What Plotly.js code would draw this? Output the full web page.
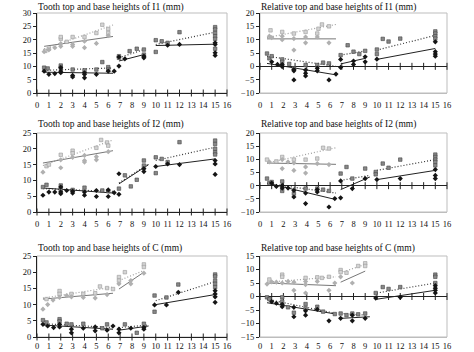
<!DOCTYPE html>
<html><head><meta charset="utf-8">
<script src="https://cdn.plot.ly/plotly-3.0.1.min.js"></script>
<style>html,body{margin:0;padding:0;background:#fff}#chart{width:474px;height:352px}</style>
</head><body><div id="chart"></div>
<script>
// ---------- Panel titles and axis ranges ----------
const panelTitles = [
  "Tooth top and base heights of I1 (mm)",
  "Relative top and base heights of I1 (mm)",
  "Tooth top and base heights of I2 (mm)",
  "Relative top and base heights of I2 (mm)",
  "Tooth top and base heights of C (mm)",
  "Relative top and base heights of C (mm)"
];
const yRanges = [[0,30],[-10,20],[0,25],[-10,20],[0,25],[-15,15]];
const xRange = [0,16];
const zeroTicks = [0,1,2,3,4,5,6,7,8,9,10,11,12,13,14,15,16];

// ---------- Panel 1: I1 absolute ----------
const p1UpSqX = [0.7,1.0,2.0,2.0,2.5,3.0,4.0,5.0,5.5,6.0,6.0];
const p1UpSqY = [15.8,16.6,20.3,21.0,19.2,21.0,21.0,22.5,25.6,24.0,22.5];
const p1UpDiX = [0.6,1.0,1.5,2.0,2.0,3.0,3.0,4.0,4.0,5.0,6.0];
const p1UpDiY = [15.5,16.2,17.0,17.5,18.5,18.2,17.5,19.4,17.0,18.6,21.5];
const p1LoSqX = [0.6,0.9,2.0,2.0,3.0,4.0,5.0,5.5,6.0,6.0,6.9,6.9,7.8,8.4,9.0,9.0,10.0,10.0,10.5,11.0,12.0,15,15,15,15,15,15];
const p1LoSqY = [9.5,9.2,10.3,9.5,8.8,8.5,8.8,11.6,9.7,8.8,13.8,13.2,15.7,16.6,16.3,14.4,19.8,15.4,19.4,18.8,22.8,24.7,23.8,22.5,21.3,20.3,16.6];
const p1LoDiX = [0.6,1.0,1.5,2.0,2.0,2.0,3.0,3.0,4.0,4.0,4.0,5.0,6.0,6.5,6.9,6.9,7.4,9.0,9.0,11.0,12.0,15,15,15,15];
const p1LoDiY = [8.2,7.0,7.3,8.2,9.5,7.6,6.6,6.0,7.0,5.7,7.6,7.0,8.2,8.2,10.1,13.5,12.8,13.8,13.2,17.9,18.2,18.2,14.1,15.1,18.8];
const p1UpDotX = [0.6,6.4], p1UpDotY = [16.5,25.5];
const p1UpSolX = [0.6,6.4], p1UpSolY = [17.5,21.2];
const p1LoDotX = [0.6,6.4,null,6.9,9.0,null,10,15], p1LoDotY = [8.5,9.4,null,13.2,16.3,null,18.2,22.8];
const p1LoSolX = [0.6,6.4,null,6.9,9.0,null,10,15], p1LoSolY = [7.8,7.4,null,12.0,14.4,null,17.8,18.3];

// ---------- Panel 2: I1 relative ----------
const p2UpSqX = [0.9,1.9,2.9,3.9,4.9,5.3,5.9,5.0];
const p2UpSqY = [13.5,12.9,12.3,12.9,12.3,15.7,15.0,14.1];
const p2UpDiX = [0.8,1.0,1.9,1.9,2.9,2.9,3.9,3.9,4.9,5.9];
const p2UpDiY = [11.3,10.8,11.3,10.0,10.4,6.1,11.0,8.8,11.0,8.8];
const p2LoSqX = [0.6,0.8,1.0,1.9,1.9,2.5,2.9,3.9,4.9,5.4,5.9,6.9,7.5,8.0,8.5,9.0,10.0,10.0,10.5,11.0,12.0,15,15,15,15];
const p2LoSqY = [4.8,3.0,3.8,2.6,1.7,0.9,-0.7,0.5,0.5,1.4,1.1,4.2,7.9,5.5,4.6,5.8,6.3,4.6,10.3,9.3,10.4,13.1,12.3,11.3,10.4];
const p2LoDiX = [1.0,1.5,1.9,1.9,2.9,2.9,2.9,3.9,3.9,3.9,4.9,4.9,5.9,6.5,6.9,6.9,8.0,8.0,9.0,9.0,10.0,15,15,15,15];
const p2LoDiY = [1.7,0.7,0.7,-0.1,-1.7,-5.1,-1.2,-1.4,-2.6,-3.6,-0.7,-1.7,-5.1,-2.9,2.6,-0.4,2.0,0.7,3.6,1.7,2.7,9.2,5.5,4.6,3.8];
const p2UpDotX = [0.6,6.5], p2UpDotY = [10.8,15.7];
const p2UpSolX = [0.6,6.5], p2UpSolY = [10.3,10.3];
const p2LoDotX = [0.6,6.5,null,6.9,9.0,null,10,15], p2LoDotY = [3.8,0.0,null,4.2,5.8,null,6.1,11.6];
const p2LoSolX = [0.6,6.5,null,6.9,9.0,null,10,15], p2LoSolY = [1.1,-3.2,null,0.9,3.0,null,2.6,6.7];

// ---------- Panel 3: I2 absolute ----------
const p3UpSqX = [0.8,1.0,2.0,3.0,3.0,5.0,5.4,5.9,6.0];
const p3UpSqY = [14.5,15.0,18.1,19.4,18.6,20.3,22.8,22.0,21.0];
const p3UpDiX = [0.5,2.0,2.0,3.0,4.0,4.0,4.0,5.0,5.0,6.0];
const p3UpDiY = [12.6,16.5,14.0,17.3,17.9,16.3,15.8,17.5,16.5,19.1];
const p3LoSqX = [0.5,0.8,2.0,2.0,3.0,4.0,5.5,6.0,6.9,7.4,7.9,8.4,9.0,9.0,10.0,10.0,10.5,11.0,12.0,15,15,15,15,15];
const p3LoSqY = [7.9,8.6,8.4,7.0,7.0,7.7,6.8,6.6,7.4,11.6,8.1,10.2,16.3,14.7,17.3,12.3,16.8,15.8,22.1,22.6,21.5,20.0,18.9,18.2];
const p3LoDiX = [0.5,1.0,1.5,2.0,2.0,2.0,2.5,3.0,3.0,4.0,4.0,5.0,5.0,6.0,6.0,6.5,6.9,6.9,9.0,9.0,10.0,11.0,12.0,15,15,15];
const p3LoDiY = [5.3,6.3,6.3,7.9,6.3,5.8,6.8,6.6,6.0,6.3,5.3,6.8,4.9,7.0,4.9,6.1,12.1,5.6,13.7,12.8,14.4,15.2,15.0,16.3,15.2,11.9];
const p3UpDotX = [0.5,6.4], p3UpDotY = [14.7,22.8];
const p3UpSolX = [0.5,6.4], p3UpSolY = [15.5,19.4];
const p3LoDotX = [0.5,6.4,null,6.9,9.4,null,10,15], p3LoDotY = [7.4,6.5,null,9.2,15.2,null,16.3,20.5];
const p3LoSolX = [0.5,6.4,null,6.9,9.4,null,10,15], p3LoSolY = [7.6,6.0,null,8.9,15.0,null,14.4,16.8];

// ---------- Panel 4: I2 relative ----------
const p4UpSqX = [0.6,1.9,2.9,3.9,4.9,5.4,5.9,1.4];
const p4UpSqY = [9.9,10.9,9.9,9.9,10.3,14.4,14.1,9.2];
const p4UpDiX = [0.8,1.9,1.9,2.4,2.9,2.9,3.9,3.9,4.9,5.9];
const p4UpDiY = [9.0,9.9,6.5,9.0,5.8,8.6,7.1,4.8,8.4,8.0];
const p4LoSqX = [0.6,0.8,1.0,1.9,1.9,2.9,3.9,4.9,5.4,5.9,6.9,7.4,7.9,9.0,9.9,9.9,10.5,11.0,12.0,15,15,15,15,15];
const p4LoSqY = [2.7,1.0,1.4,1.6,-2.0,-3.0,-1.1,-1.1,-1.5,-2.0,4.6,7.1,2.7,6.5,5.2,4.3,8.4,6.8,9.9,11.8,10.9,9.9,9.0,7.7];
const p4LoDiX = [1.0,1.4,1.9,1.9,2.4,2.9,2.9,3.9,3.9,4.9,4.9,5.9,6.4,6.9,6.9,7.9,9.0,10.0,12.0,15,15,15];
const p4LoDiY = [1.0,-0.3,0.1,-0.9,-0.9,-1.8,-4.3,-2.8,-6.8,-2.4,-1.5,-8.1,-4.9,1.8,-4.6,-1.1,2.7,2.3,2.7,6.1,3.9,2.7];
const p4UpDotX = [0.6,6.5], p4UpDotY = [8.6,14.4];
const p4UpSolX = [0.6,6.5], p4UpSolY = [8.6,8.1];
const p4LoDotX = [0.6,6.5,null,6.9,9.4,null,10,15], p4LoDotY = [0.8,-2.8,null,2.0,3.9,null,5.8,9.9];
const p4LoSolX = [0.6,6.5,null,6.9,9.4,null,10,15], p4LoSolY = [1.0,-5.3,null,-1.5,3.3,null,2.3,5.8];

// ---------- Panel 5: C absolute ----------
const p5UpSqX = [0.8,1.9,1.9,2.9,3.9,4.9,5.3,5.9,6.4,6.9,6.9,7.4,9.0,9.0];
const p5UpSqY = [11.7,14.2,13.3,13.3,13.3,13.5,15.6,15.1,14.8,18.5,17.4,20.0,22.4,21.6];
const p5UpDiX = [0.5,0.9,1.35,1.9,2.5,2.9,3.9,4.9,5.9,6.9,7.9,7.9,9.0];
const p5UpDiY = [8.6,10.0,11.4,12.2,12.8,12.4,12.2,12.0,13.1,16.4,17.4,16.4,19.7];
const p5LoSqX = [0.5,0.8,1.9,1.9,2.5,2.9,3.9,5.5,5.9,7.4,8.4,9.0,9.9,9.9,10.9,11.9,15,15,15,15,15];
const p5LoSqY = [5.2,4.5,5.5,4.8,4.1,3.9,4.1,2.7,3.9,3.9,1.3,4.1,12.8,7.8,12.2,16.2,19.3,18.7,17.4,16.4,15.4];
const p5LoDiX = [0.5,0.9,1.4,1.9,1.9,2.9,2.9,3.9,4.9,4.9,5.9,6.4,6.9,6.9,7.9,9.0,9.0,9.9,10.9,11.9,15,15,15,15];
const p5LoDiY = [3.9,3.4,2.9,3.9,3.1,2.4,1.3,2.7,3.1,1.9,2.1,3.4,2.4,1.3,2.7,2.9,2.4,9.9,9.9,13.8,14.3,13.3,12.4,10.7];
const p5UpDotX = [0.5,6.4,null,6.9,9.0], p5UpDotY = [12.0,15.4,null,17.4,20.5];
const p5UpSolX = [0.5,6.4,null,6.9,9.0], p5UpSolY = [11.7,13.5,null,14.8,20.0];
const p5LoDotX = [0.5,6.4,null,6.9,9.4,null,10,15], p5LoDotY = [4.1,2.9,null,2.9,3.7,null,11.2,17.1];
const p5LoSolX = [0.5,6.4,null,6.9,9.4,null,10,15], p5LoSolY = [3.7,2.4,null,2.1,3.4,null,10.0,13.1];

// ---------- Panel 6: C relative ----------
const p6UpSqX = [0.8,1.9,1.9,3.9,4.9,5.3,5.9,6.9,6.9,7.4,8.4,9.0,9.0];
const p6UpSqY = [6.3,8.1,7.3,6.9,7.1,6.9,7.3,9.8,9.0,8.8,11.3,12.3,11.3];
const p6UpDiX = [0.6,1.0,1.4,1.9,2.4,2.9,2.9,3.9,3.9,3.9,4.9,5.9,6.4,6.9,7.9];
const p6UpDiY = [4.6,5.4,5.3,5.0,5.6,5.3,2.3,5.6,4.4,1.3,5.6,2.3,5.0,7.3,5.0];
const p6LoSqX = [0.6,0.8,1.9,1.9,2.4,2.9,3.9,3.9,4.9,5.4,6.4,6.9,7.4,7.9,8.4,9.0,9.9,10.5,11.0,12.0,15,15,15];
const p6LoSqY = [-0.3,-1.0,-0.3,-1.9,-4.0,-6.0,-2.8,-4.4,-3.8,-5.6,-6.5,-6.3,-6.9,-6.3,-6.6,-6.3,1.3,3.5,2.8,3.5,8.1,7.3,5.0];
const p6LoDiX = [1.0,1.4,1.9,1.9,2.9,2.9,3.9,3.9,4.9,5.9,6.9,7.9,7.9,9.0,9.9,12.0,15,15,15,15];
const p6LoDiY = [-1.9,-2.5,-2.9,-3.8,-4.0,-7.5,-5.3,-6.9,-4.8,-9.0,-8.1,-6.9,-9.0,-8.1,-0.6,-0.3,4.0,3.1,2.3,1.3];
const p6UpDotX = [0.6,6.5,null,6.9,9.0], p6UpDotY = [5.3,7.3,null,8.8,11.9];
const p6UpSolX = [0.6,6.5,null,6.9,9.0], p6UpSolY = [5.0,4.0,null,5.3,9.4];
const p6LoDotX = [0.6,6.5,null,6.9,9.0,null,10,15], p6LoDotY = [-1.0,-6.3,null,-6.3,-6.9,null,1.3,5.0];
const p6LoSolX = [0.6,6.5,null,6.9,9.4,null,10,15], p6LoSolY = [-2.3,-6.5,null,-8.1,-7.5,null,-1.0,2.3];

// ---------- assemble ----------
const panels = [
  {upSq:[p1UpSqX,p1UpSqY],upDi:[p1UpDiX,p1UpDiY],loSq:[p1LoSqX,p1LoSqY],loDi:[p1LoDiX,p1LoDiY],upDot:[p1UpDotX,p1UpDotY],upSol:[p1UpSolX,p1UpSolY],loDot:[p1LoDotX,p1LoDotY],loSol:[p1LoSolX,p1LoSolY]},
  {upSq:[p2UpSqX,p2UpSqY],upDi:[p2UpDiX,p2UpDiY],loSq:[p2LoSqX,p2LoSqY],loDi:[p2LoDiX,p2LoDiY],upDot:[p2UpDotX,p2UpDotY],upSol:[p2UpSolX,p2UpSolY],loDot:[p2LoDotX,p2LoDotY],loSol:[p2LoSolX,p2LoSolY]},
  {upSq:[p3UpSqX,p3UpSqY],upDi:[p3UpDiX,p3UpDiY],loSq:[p3LoSqX,p3LoSqY],loDi:[p3LoDiX,p3LoDiY],upDot:[p3UpDotX,p3UpDotY],upSol:[p3UpSolX,p3UpSolY],loDot:[p3LoDotX,p3LoDotY],loSol:[p3LoSolX,p3LoSolY]},
  {upSq:[p4UpSqX,p4UpSqY],upDi:[p4UpDiX,p4UpDiY],loSq:[p4LoSqX,p4LoSqY],loDi:[p4LoDiX,p4LoDiY],upDot:[p4UpDotX,p4UpDotY],upSol:[p4UpSolX,p4UpSolY],loDot:[p4LoDotX,p4LoDotY],loSol:[p4LoSolX,p4LoSolY]},
  {upSq:[p5UpSqX,p5UpSqY],upDi:[p5UpDiX,p5UpDiY],loSq:[p5LoSqX,p5LoSqY],loDi:[p5LoDiX,p5LoDiY],upDot:[p5UpDotX,p5UpDotY],upSol:[p5UpSolX,p5UpSolY],loDot:[p5LoDotX,p5LoDotY],loSol:[p5LoSolX,p5LoSolY]},
  {upSq:[p6UpSqX,p6UpSqY],upDi:[p6UpDiX,p6UpDiY],loSq:[p6LoSqX,p6LoSqY],loDi:[p6LoDiX,p6LoDiY],upDot:[p6UpDotX,p6UpDotY],upSol:[p6UpSolX,p6UpSolY],loDot:[p6LoDotX,p6LoDotY],loSol:[p6LoSolX,p6LoSolY]}
];

const W = 474, H = 352;
const xDoms = [[37/W, 227/W], [260/W, 447/W]];
const rowPx = [[13,93],[133,212],[256,337]];
const titleY = [8,124,248];
const labelPad = [4,4,1];
const FONT = '"Liberation Serif", "Times New Roman", serif';
const DARK = '#222', GRAYBOX = '#bdbdbd';

const traces = [], layout = {
  width: W, height: H, margin:{l:0,r:0,t:0,b:0},
  paper_bgcolor:'#fff', plot_bgcolor:'rgba(0,0,0,0)', showlegend:false,
  font:{family:FONT, size:8.5, color:'#111'}, annotations:[], shapes:[]
};

panels.forEach((p, i) => {
  const n = i + 1, row = Math.floor(i/2), col = i % 2;
  const xa = n === 1 ? 'x' : 'x' + n, ya = n === 1 ? 'y' : 'y' + n;
  const xk = n === 1 ? 'xaxis' : 'xaxis' + n, yk = n === 1 ? 'yaxis' : 'yaxis' + n;
  const yr = yRanges[i];
  const yd = [1 - rowPx[row][1]/H, 1 - rowPx[row][0]/H];
  layout[xk] = {domain: xDoms[col], anchor: ya, range: xRange, dtick: 1, tick0: 0,
    showgrid:false, zeroline:false, showline:true, linecolor: yr[0] === 0 ? DARK : GRAYBOX, linewidth:1,
    ticks:'outside', ticklen:labelPad[row], tickcolor:'rgba(0,0,0,0)', tickfont:{family:FONT,size:8.5,color:'#111'}, fixedrange:true};
  layout[yk] = {domain: yd, anchor: xa, range: yr, dtick: 5, tick0: 0,
    showgrid:false, zeroline:true, zerolinecolor:DARK, zerolinewidth:1,
    showline:true, linecolor:DARK, linewidth:1, ticks:'outside', ticklen:3, tickcolor:DARK,
    tickfont:{family:FONT,size:8.5,color:'#111'}, fixedrange:true};
  layout.shapes.push({type:'rect', xref:'paper', yref:'paper', x0:xDoms[col][0], x1:xDoms[col][1], y0:yd[0], y1:yd[1],
    line:{color:GRAYBOX,width:1}, layer:'below'});
  layout.annotations.push({text: panelTitles[i], xref:'paper', yref:'paper', x: xDoms[col][0] - 1/W,
    y: 1 - titleY[row]/H, xanchor:'left', yanchor:'middle', showarrow:false,
    font:{family:FONT, size:9.5, color:'#111'}});

  const base = {xaxis:xa, yaxis:ya, hoverinfo:'skip', cliponaxis:false};
  // zero-line tick marks
  traces.push(Object.assign({}, base, {type:'scatter', mode:'markers', x: zeroTicks, y: zeroTicks.map(() => 0),
    marker:{symbol:'line-ns', size:5, line:{color:DARK, width:1}}}));
  // trend lines
  traces.push(Object.assign({}, base, {type:'scatter', mode:'lines', x:p.upDot[0], y:p.upDot[1], line:{color:'#a0a0a0', width:1.2, dash:'1px,2px'}}));
  traces.push(Object.assign({}, base, {type:'scatter', mode:'lines', x:p.upSol[0], y:p.upSol[1], line:{color:'#777', width:1}}));
  traces.push(Object.assign({}, base, {type:'scatter', mode:'lines', x:p.loDot[0], y:p.loDot[1], line:{color:'#333', width:1.2, dash:'1px,2px'}}));
  traces.push(Object.assign({}, base, {type:'scatter', mode:'lines', x:p.loSol[0], y:p.loSol[1], line:{color:'#222', width:1}}));
  // points
  traces.push(Object.assign({}, base, {type:'scatter', mode:'markers', x:p.upSq[0], y:p.upSq[1],
    marker:{symbol:'square', size:3.5, color:'#d4d4d4', line:{color:'#999', width:0.6}}}));
  traces.push(Object.assign({}, base, {type:'scatter', mode:'markers', x:p.upDi[0], y:p.upDi[1],
    marker:{symbol:'diamond', size:4, color:'#b0b0b0', line:{width:0}}}));
  traces.push(Object.assign({}, base, {type:'scatter', mode:'markers', x:p.loSq[0], y:p.loSq[1],
    marker:{symbol:'square', size:3.5, color:'#888', line:{color:'#444', width:0.6}}}));
  traces.push(Object.assign({}, base, {type:'scatter', mode:'markers', x:p.loDi[0], y:p.loDi[1],
    marker:{symbol:'diamond', size:4, color:'#151515', line:{width:0}}}));
});

Plotly.newPlot('chart', traces, layout, {displayModeBar:false, staticPlot:true});
</script>
</body></html>
